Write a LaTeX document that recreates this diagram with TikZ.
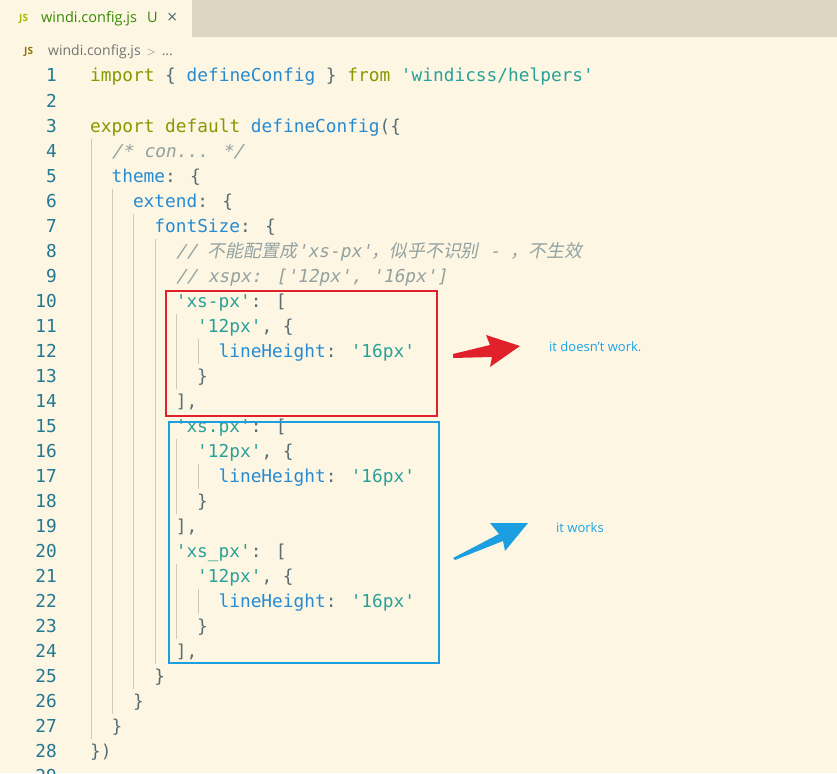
\documentclass[tikz,border=0pt]{standalone}
\usepackage{fontspec}
\setmainfont{Open Sans}
\newfontfamily\code[Ligatures=NoCommon]{DejaVu Sans Mono}
\newfontfamily\cmt[FakeSlant=0.2]{DejaVu Sans Mono}
\newfontfamily\cjk[FakeSlant=0.2]{Noto Sans CJK SC}
\definecolor{bg}{HTML}{FDF6E3}
\definecolor{tabbar}{HTML}{DDD6C1}
\definecolor{kw}{HTML}{859900}
\definecolor{fn}{HTML}{268BD2}
\definecolor{st}{HTML}{2AA198}
\definecolor{pu}{HTML}{586E75}
\definecolor{cm}{HTML}{93A1A1}
\definecolor{ln}{HTML}{237893}
\definecolor{guide}{HTML}{CFC9B8}
\definecolor{note}{HTML}{1AA3E8}
\definecolor{redbox}{HTML}{E0202A}
\definecolor{bluebox}{HTML}{1C9FE0}
\newcommand\K[1]{\textcolor{kw}{#1}}
\newcommand\F[1]{\textcolor{fn}{#1}}
\newcommand\Sq[1]{\textcolor{st}{\char39\relax#1\char39\relax}}
\newcommand\Pu[1]{\textcolor{pu}{#1}}
\newcommand\Cm[1]{\textcolor{cm}{\cmt #1}}
\begin{document}
\begin{tikzpicture}[x=1pt,y=-1pt,
  cl/.style={anchor=base west,inner sep=0pt,font=\code\fontsize{17.8}{20}\selectfont},
  lnum/.style={anchor=base east,inner sep=0pt,text=ln,font=\code\fontsize{17.8}{20}\selectfont},
  gl/.style={draw=guide,line width=0.8pt},
  note/.style={anchor=base west,inner sep=0pt,text=note,font=\fontsize{13}{16}\selectfont}]
\useasboundingbox (0,0) rectangle (837,773);
\fill[bg] (0,0) rectangle (837,773);
\fill[tabbar] (192,0) rectangle (837,37);
% tab
\node[anchor=base west,inner sep=0pt,text=kw!70!yellow,font=\bfseries\fontsize{10}{10}\selectfont] (tjs) at (19,22) {JS};
\node[anchor=base west,inner sep=0pt,text=kw!55!green!70!black,font=\fontsize{14.5}{16}\selectfont] (tname) at (41,23) {windi.config.js};
\node[anchor=base west,inner sep=0pt,text=kw!55!green!70!black,font=\fontsize{14.5}{16}\selectfont] (tu) at (147,23) {U};
\node[anchor=base west,inner sep=0pt,text=pu,font=\fontsize{18}{18}\selectfont] (tx) at (167,24) {×};
% breadcrumb
\node[anchor=base west,inner sep=0pt,text=kw!60!orange!80!black,font=\bfseries\fontsize{10}{10}\selectfont] (bjs) at (24,55) {JS};
\node[anchor=base west,inner sep=0pt,text=black!55,font=\fontsize{14}{16}\selectfont] (bname) at (48,56) {windi.config.js \,{\fontsize{12}{12}\selectfont$>$}\, ...};
% indent guides
\foreach \k/\a/\b in {0/4/27,1/6/26,2/7/25,3/8/24,4/11/13,4/16/18,4/21/23,5/12/12,5/17/17,5/22/22}
  \draw[gl] ({91+21.4*\k},{76+25*(\a-1)-12.5}) -- ({91+21.4*\k},{76+25*(\b-1)+12.5});
% line numbers
\foreach \n in {1,...,29} \node[lnum] (n\n) at (57,{82+25*(\n-1)}) {\n};
\newcommand\CL[3]{\node[cl] (c#1) at ({90+10.7*#2},{82+25*(#1-1)}) {#3};}
\CL{1}{0}{\K{import} \Pu{\{} \F{defineConfig} \Pu{\}} \K{from} \Sq{windicss/helpers}}
\CL{3}{0}{\K{export} \K{default} \F{defineConfig}\Pu{(\{}}
\CL{4}{2}{\Cm{/* con... */}}
\CL{5}{2}{\F{theme}\Pu{: \{}}
\CL{6}{4}{\F{extend}\Pu{: \{}}
\CL{7}{6}{\F{fontSize}\Pu{: \{}}
\CL{8}{8}{\Cm{// {\cjk 不能配置成}'xs-px'{\cjk ，似乎不识别} - {\cjk ，不生效}}}
\CL{9}{8}{\Cm{// xspx: ['12px', '16px']}}
\foreach \s/\nm in {10/xs-px,15/xs.px,20/xs\_px}{
  \pgfmathtruncatemacro\la{\s+1}\pgfmathtruncatemacro\lb{\s+2}
  \pgfmathtruncatemacro\lc{\s+3}\pgfmathtruncatemacro\ld{\s+4}
  \node[cl] (k\s) at (175.6,{82+25*(\s-1)}) {\Sq{\nm}\Pu{: [}};
  \node[cl] (a\s) at (197,{82+25*(\la-1)}) {\Sq{12px}\Pu{, \{}};
  \node[cl] (b\s) at (218.4,{82+25*(\lb-1)}) {\F{lineHeight}\Pu{: }\Sq{16px}};
  \node[cl] (d\s) at (197,{82+25*(\lc-1)}) {\Pu{\}}};
  \node[cl] (e\s) at (175.6,{82+25*(\ld-1)}) {\Pu{],}};
}
\CL{25}{6}{\Pu{\}}}
\CL{26}{4}{\Pu{\}}}
\CL{27}{2}{\Pu{\}}}
\CL{28}{0}{\Pu{\})}}
% boxes
\draw[redbox,line width=1.6pt] (166,291) rectangle (437,416);
\draw[bluebox,line width=1.6pt] (169,422) rectangle (439,663);
% arrows
\fill[redbox] (453,354)--(490,345)--(486,335)--(520,346)--(490,367)--(492,357)--(453,358)--cycle;
\fill[bluebox] (453,558)--(499,534)--(490,523)--(528,523)--(505,551)--(503,541)--(455,560)--cycle;
\node[note] (t1) at (549,351) {it doesn\char39\relax t work.};
\node[note] (t2) at (556,532) {it works};
\end{tikzpicture}
\end{document}
